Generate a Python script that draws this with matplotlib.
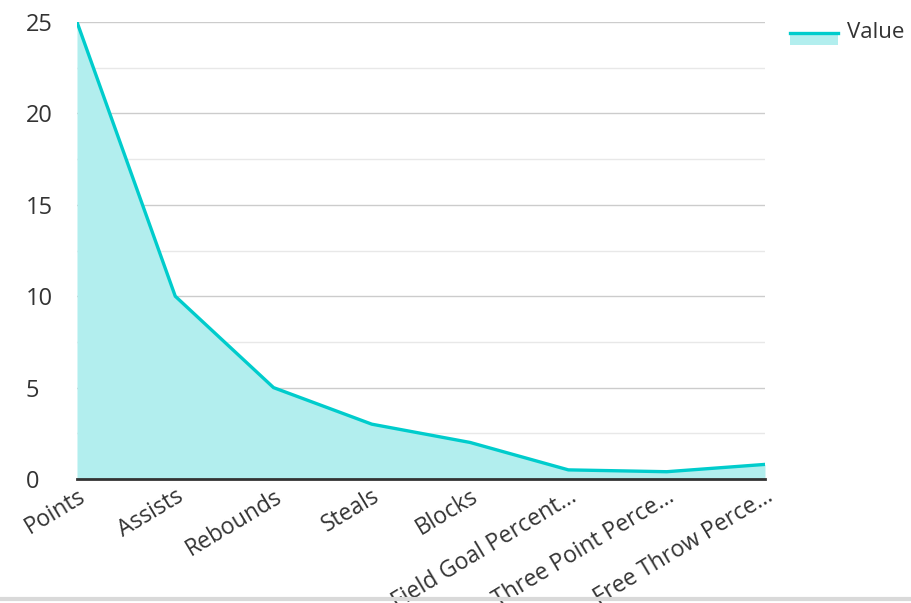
import matplotlib.pyplot as plt
from matplotlib.lines import Line2D
from matplotlib.patches import Rectangle
from matplotlib.ticker import MultipleLocator

# data
categories = ["Points", "Assists", "Rebounds", "Steals", "Blocks",
              "Field Goal Percent...", "Three Point Perce...", "Free Throw Perce..."]
values = [25, 10, 5, 3, 2, 0.5, 0.4, 0.8]

line_color = "#00cccc"
fill_color = "#b2eeee"
text_color = "#333333"

plt.rcParams["font.family"] = ["Open Sans", "DejaVu Sans"]

fig = plt.figure(figsize=(9.12, 6.03), dpi=100)
ax = fig.add_axes([0.0844, 0.2056, 0.7544, 0.7579])

x = range(len(categories))
ax.fill_between(x, values, 0, color=fill_color, linewidth=0, zorder=2)
ax.plot(x, values, color=line_color, linewidth=2.4, zorder=3, solid_joinstyle="miter")

ax.set_xlim(0, len(categories) - 1)
ax.set_ylim(0, 25)
ax.yaxis.set_major_locator(MultipleLocator(5))
ax.yaxis.set_minor_locator(MultipleLocator(2.5))
ax.grid(which="major", axis="y", color="#cccccc", linewidth=1, zorder=1)
ax.grid(which="minor", axis="y", color="#e8e8e8", linewidth=1, zorder=1)
ax.grid(False, axis="x")

for s in ["left", "right", "top"]:
    ax.spines[s].set_visible(False)
ax.spines["bottom"].set_color(text_color)
ax.spines["bottom"].set_linewidth(2)
ax.spines["bottom"].set_zorder(4)

ax.set_xticks(list(x))
ax.set_xticklabels(categories, rotation=31, ha="right", va="top",
                   rotation_mode="anchor", fontsize=16.5, color=text_color)
ax.tick_params(axis="x", length=0, pad=4)
ax.tick_params(axis="y", which="both", length=0, labelsize=17, labelcolor=text_color, pad=37)
for lab in ax.get_yticklabels():
    lab.set_horizontalalignment("left")

# legend drawn by hand in figure coords
fig.add_artist(Rectangle((790 / 912, 1 - 45 / 603), 48 / 912, 11 / 603,
                         transform=fig.transFigure, color=fill_color, linewidth=0))
fig.add_artist(Line2D([790 / 912, 838 / 912], [1 - 33 / 603, 1 - 33 / 603],
                      transform=fig.transFigure, color=line_color, linewidth=2.4))
fig.text(847 / 912, 1 - 33 / 603, "Value", fontsize=16, color=text_color,
         ha="left", va="center")

# bottom border
fig.add_artist(Line2D([0, 1], [1 - 599 / 603, 1 - 599 / 603],
                      transform=fig.transFigure, color="#d9d9d9", linewidth=3))

fig.savefig("out.png", dpi=100)
